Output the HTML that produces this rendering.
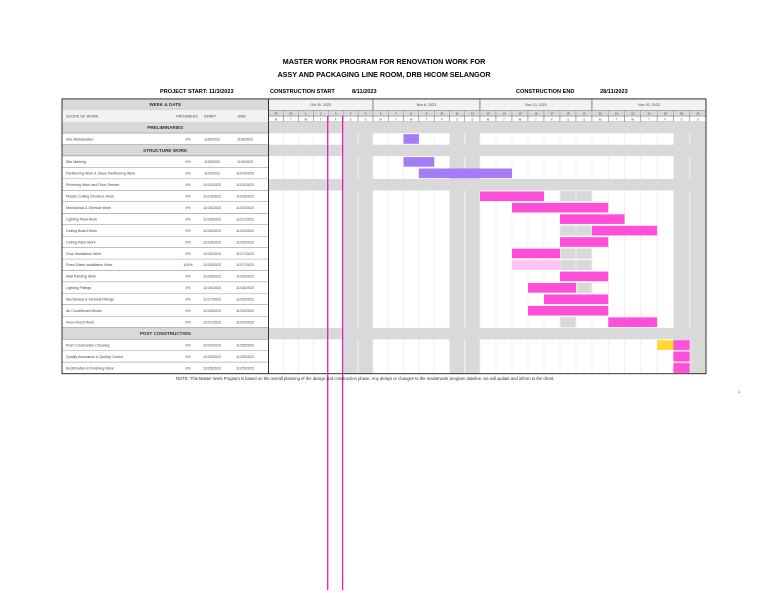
<!DOCTYPE html>
<html><head><meta charset="utf-8"><style>
html,body{margin:0;padding:0;background:#fff;width:768px;height:593px;overflow:hidden}
svg{display:block;font-family:"Liberation Sans",sans-serif}
</style></head><body>
<svg id="s" width="768" height="593" viewBox="0 0 768 593">
<text x="384" y="64" text-anchor="middle" font-size="7.2" font-weight="bold">MASTER WORK PROGRAM FOR RENOVATION WORK FOR</text>
<text x="384" y="77" text-anchor="middle" font-size="7.2" font-weight="bold">ASSY AND PACKAGING LINE ROOM, DRB HICOM SELANGOR</text>
<text x="160" y="93" font-size="5.6" font-weight="bold">PROJECT START:  11/3/2023</text>
<text x="270" y="93" font-size="5.6" font-weight="bold">CONSTRUCTION START</text>
<text x="352" y="93" font-size="5.6" font-weight="bold">8/11/2023</text>
<text x="516" y="93" font-size="5.6" font-weight="bold">CONSTRUCTION END</text>
<text x="600" y="93" font-size="5.6" font-weight="bold">28/11/2023</text>
<g id="g"></g>
<text x="176" y="380" font-size="4.2" fill="#333">NOTE:  This Master Work Program is based on the overall planning of the design and construction phase. Any delays or changes to the masterwork program dateline, we will update and inform to the client.</text>
<text x="738" y="393" font-size="4" fill="#333">1</text>
</svg>
<script>
const tasks=["PRELIMINARIES","Site Mobalisation","STRUCTURE WORK","Site Marking","Partitioning Work & Glass Partitioning Work","Plumbing Work and Floor Render","Plaster Ceiling Structure Work","Mechanical & Eletrical Work","Lighting Plant Work","Ceiling Board Work","Ceiling Paint Work","Door Installation Work","Fixed Glass Installation Work","Wall Painting Work","Lighting Fittings","Mechanical & Eletrical Fittings","Air Conditioned Works","Floor Finish Work","POST CONSTRUCTION","Post Construction Cleaning","Quality Assurance & Quality Control","Rectification & Finishing Work"];
const progress=["","0%","","0%","0%","0%","0%","0%","0%","0%","0%","0%","100%","0%","0%","0%","0%","0%","","0%","0%","0%"];
const starts=["","11/8/2023","","11/8/2023","11/9/2023","11/10/2023","11/13/2023","11/15/2023","11/18/2023","11/20/2023","11/18/2023","11/15/2023","11/15/2023","11/18/2023","11/16/2023","11/17/2023","11/16/2023","11/21/2023","","11/24/2023","11/25/2023","11/25/2023"];
const ends=["","11/8/2023","","11/9/2023","11/14/2023","11/10/2023","11/16/2023","11/20/2023","11/21/2023","11/23/2023","11/20/2023","11/17/2023","11/17/2023","11/20/2023","11/18/2023","11/20/2023","11/20/2023","11/23/2023","","11/25/2023","11/25/2023","11/25/2023"];
const weekLabels=["Oct 30, 2023","Nov 6, 2023","Nov 13, 2023","Nov 20, 2023"];
const dayNums=[30,31,1,2,3,4,5,6,7,8,9,10,11,12,13,14,15,16,17,18,19,20,21,22,23,24,25,26];
const dayLetters=["M","T","W","T","F","S","S"];
// bars: row index (in tasks), start day index (Oct30=0), end day index, colour kind
const barRows=[1,3,4,6,7,8,9,10,11,12,13,14,15,16,17,19,19,20,21];
const barStart=[9,9,10,14,16,19,21,19,16,16,19,17,18,17,22,25,26,26,26];
const barEnd=[9,10,15,17,21,22,24,21,18,18,21,19,21,21,24,25,26,26,26];
const barKind=["p","p","p","m","m","m","m","m","m","l","m","m","m","m","m","y","m","m","m"];
const markerDays=[4,5];
const sections=[0,2,18];
const grayRows=[5];
const extraGrayRows=[6,9,11,12,14,17];
const extraGrayDays=[[19,20],[19,20],[19,20],[19,20],[20],[19]];

const NS="http://www.w3.org/2000/svg",g=document.getElementById('g');
function el(t,a,txt){const e=document.createElementNS(NS,t);for(const k in a)e.setAttribute(k,a[k]);if(txt!=null)e.textContent=txt;g.appendChild(e);return e;}
// axis: week boundaries of the printed sheet (columns widen slightly to the right)
const WB=[268.5,373,480,592,706];
const X0=WB[0],X1=WB[4],TL=62,Y0=98.9,RH=11.45;
function xd(d){const w=Math.min(3,Math.floor(d/7));return WB[w]+(d-w*7)*(WB[w+1]-WB[w])/7;}
const dwd=d=>xd(d+1)-xd(d);
const yr=r=>Y0+(r+2)*RH;
const colors={p:"#a57cf5",m:"#ff4fd8",l:"#ffc4f0",y:"#ffd92e"};
let e;
e=el('rect',{x:TL,y:Y0,width:X0-TL,height:RH,fill:"#d9d9d9"});

e=el('text',{x:(TL+X0)/2,y:Y0+7.3,'font-size':4.6,'font-weight':'bold','text-anchor':'middle',fill:'#333'},"WEEK & DATE");

e=el('rect',{x:TL,y:Y0+RH,width:X0-TL,height:RH,fill:"#f2f2f2"});

[["SCOPE OF WORK",66,'start'],["PROGRESS",187,'middle'],["START",210,'middle'],["END",242,'middle']].forEach(h=>{
 e=el('text',{x:h[1],y:Y0+RH+7.3,'font-size':3.8,'text-anchor':h[2],fill:'#444'},h[0]);
 });
e=el('rect',{x:X0,y:Y0+2*RH,width:X1-X0,height:tasks.length*RH,fill:"#fff"});

weekLabels.forEach((w,i)=>{
 e=el('rect',{x:xd(i*7),y:Y0,width:WB[i+1]-WB[i],height:RH,fill:"#f2f2f2",stroke:"#555","stroke-width":0.6});
 
 e=el('text',{x:(WB[i]+WB[i+1])/2,y:Y0+7,'font-size':3.6,'text-anchor':'middle',fill:'#444'},w);
 });
dayNums.forEach((n,d)=>{
 const x=xd(d),dw=dwd(d);
 e=el('rect',{x:x,y:Y0+RH,width:dw,height:RH/2,fill:"#d9d9d9",stroke:"#777","stroke-width":0.3});
 
 e=el('text',{x:x+dw/2,y:Y0+RH+4.3,'font-size':2.8,'text-anchor':'middle',fill:'#333'},n);
 
 e=el('rect',{x:x,y:Y0+RH*1.5,width:dw,height:RH/2,fill:"#fff",stroke:"#555","stroke-width":0.4});
 
 e=el('text',{x:x+dw/2,y:Y0+RH*1.5+4.3,'font-size':2.8,'text-anchor':'middle',fill:'#333'},dayLetters[d%7]);
 
 e=el('line',{x1:x,x2:x,y1:Y0+2*RH,y2:Y0+(tasks.length+2)*RH,stroke:"#ececec","stroke-width":0.8});
 
 if(d%7>=5&&!(d>=14&&d<21)){e=el('rect',{x:x+0.5,y:Y0+2*RH,width:dw-1,height:tasks.length*RH,fill:"#d9d9d9"});
  }
});
extraGrayRows.forEach((r,i)=>extraGrayDays[i].forEach(d=>{
 e=el('rect',{x:xd(d)+0.5,y:yr(r)+0.6,width:dwd(d)-1,height:RH-1.2,fill:"#d9d9d9"});
 }));
tasks.forEach((t,r)=>{
 const y=yr(r),sec=sections.includes(r),gr=grayRows.includes(r);
 e=el('rect',{x:TL,y:y,width:X0-TL,height:RH,fill:sec?"#d9d9d9":"#fff"});
 
 if(sec||gr){e=el('rect',{x:X0,y:y,width:X1-X0,height:RH,fill:"#d9d9d9"});
  }
 if(sec){e=el('text',{x:(TL+X0)/2,y:y+7.3,'font-size':4.6,'font-weight':'bold','text-anchor':'middle',fill:'#333'},t);
  }
 else{
  e=el('text',{x:66,y:y+7,'font-size':3.6,fill:'#444'},t);
  
  e=el('text',{x:188,y:y+7,'font-size':3.6,'text-anchor':'middle',fill:'#444'},progress[r]);
  
  e=el('text',{x:212,y:y+7,'font-size':3.6,'text-anchor':'middle',fill:'#444'},starts[r]);
  
  e=el('text',{x:245,y:y+7,'font-size':3.6,'text-anchor':'middle',fill:'#444'},ends[r]);
  }
 e=el('line',{x1:TL,x2:X0,y1:y+RH,y2:y+RH,stroke:"#555","stroke-width":0.7});
 
});
barRows.forEach((r,i)=>{
 const xs=xd(barStart[i]),xe=xd(barEnd[i]+1);
 e=el('rect',{x:xs,y:yr(r)+0.9,width:xe-xs,height:RH-1.8,fill:colors[barKind[i]]});
 
});
const yb=Y0+(tasks.length+2)*RH;
e=el('rect',{x:TL,y:Y0,width:X1-TL,height:yb-Y0,fill:"none",stroke:"#222","stroke-width":0.9});

e=el('line',{x1:X0,x2:X0,y1:Y0,y2:yb,stroke:"#222","stroke-width":0.9});

markerDays.forEach(d=>{
 e=el('line',{x1:xd(d)-0.5,x2:xd(d)-0.5,y1:Y0+RH*1.5,y2:590,stroke:"#e21fc4","stroke-width":1.3});
 
});
</script>
</body></html>
